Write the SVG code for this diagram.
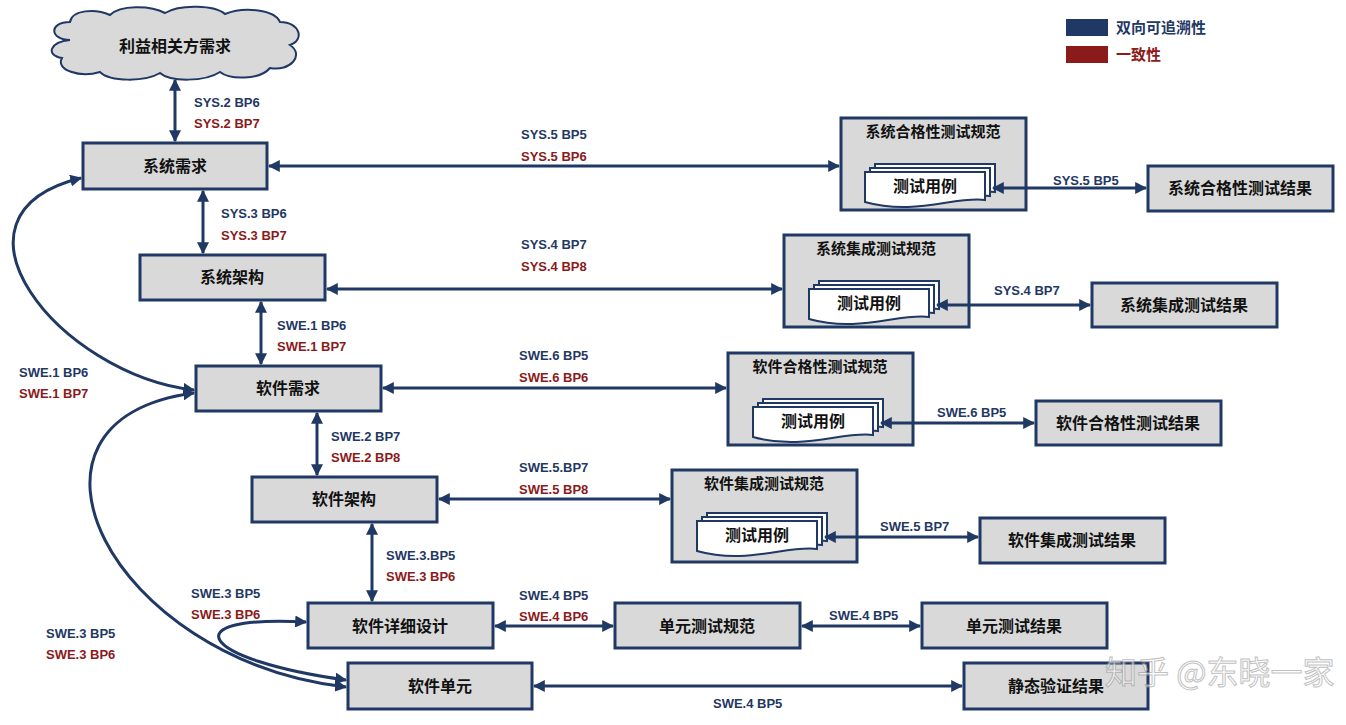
<svg xmlns="http://www.w3.org/2000/svg" width="1346" height="725" viewBox="0 0 1346 725">
<defs>
<style>
.n{fill:#d9d9d9;stroke:#1f3864;stroke-width:3}
.t{font-family:"Liberation Sans","Noto Sans CJK SC",sans-serif;font-weight:bold;font-size:16px;fill:#111;text-anchor:middle}
.l{font-family:"Liberation Sans","Noto Sans CJK SC",sans-serif;font-weight:bold;font-size:13px}
.b{fill:#1f3864}.r{fill:#8b1a1a}
.c{fill:none;stroke:#1f3864;stroke-width:3;marker-start:url(#a);marker-end:url(#a)}
.d{fill:#fff;stroke:#1f3864;stroke-width:2}
</style>
<marker id="a" viewBox="0 0 10 10" refX="9" refY="5" markerWidth="4" markerHeight="4" orient="auto-start-reverse"><path d="M0,0L10,5L0,10z" fill="#1f3864"/></marker>
<symbol id="doc" viewBox="0 0 130 40" width="130" height="40" overflow="visible">
<path class="d" d="M10,0H130V28C100,24 60,44 10,30Z"/>
<path class="d" d="M5,4H125V32C95,28 55,48 5,34Z"/>
<path class="d" d="M0,8H120V36C90,32 50,52 0,38Z"/>
</symbol>
</defs>
<rect width="1346" height="725" fill="#fff"/>
<g id="legend">
<rect x="1066" y="19" width="42" height="17" fill="#1f3864"/><text x="1116" y="33" class="l b" style="font-size:15px;fill:#1f3864">双向可追溯性</text>
<rect x="1066" y="46" width="42" height="17" fill="#8b1a1a"/><text x="1116" y="60" class="l r" style="font-size:15px">一致性</text>
</g>
<g id="connectors">
<path class="c" d="M175,80V141"/>
<path class="c" d="M203,191V253"/>
<path class="c" d="M261,302V364"/>
<path class="c" d="M317,413V475"/>
<path class="c" d="M372,524V601"/>
<path class="c" d="M269,166H839"/>
<path class="c" d="M327,289H782"/>
<path class="c" d="M383,388H726"/>
<path class="c" d="M439,499H670"/>
<path class="c" d="M495,626H613"/>
<path class="c" d="M802,626H920"/>
<path class="c" d="M534,686H962"/>
<path class="c" d="M194,390C60,375 -70,215 81,178"/>
<path class="c" d="M346,687C110,660 -10,420 194,393"/>
<path class="c" d="M346,680C200,660 170,615 306,622"/>
</g>
<g class="l">
<text x="194" y="107" class="b">SYS.2 BP6</text><text x="194" y="128" class="r">SYS.2 BP7</text>
<text x="221" y="218" class="b">SYS.3 BP6</text><text x="221" y="240" class="r">SYS.3 BP7</text>
<text x="277" y="330" class="b">SWE.1 BP6</text><text x="277" y="351" class="r">SWE.1 BP7</text>
<text x="331" y="441" class="b">SWE.2 BP7</text><text x="331" y="462" class="r">SWE.2 BP8</text>
<text x="386" y="560" class="b">SWE.3.BP5</text><text x="386" y="581" class="r">SWE.3 BP6</text>
<text x="19" y="377" class="b">SWE.1 BP6</text><text x="19" y="398" class="r">SWE.1 BP7</text>
<text x="46" y="638" class="b">SWE.3 BP5</text><text x="46" y="659" class="r">SWE.3 BP6</text>
<text x="191" y="598" class="b">SWE.3 BP5</text><text x="191" y="619" class="r">SWE.3 BP6</text>
<text x="521" y="139" class="b">SYS.5 BP5</text><text x="521" y="161" class="r">SYS.5 BP6</text>
<text x="521" y="249" class="b">SYS.4 BP7</text><text x="521" y="271" class="r">SYS.4 BP8</text>
<text x="519" y="360" class="b">SWE.6 BP5</text><text x="519" y="382" class="r">SWE.6 BP6</text>
<text x="519" y="472" class="b">SWE.5.BP7</text><text x="519" y="494" class="r">SWE.5 BP8</text>
<text x="519" y="600" class="b">SWE.4 BP5</text><text x="519" y="621" class="r">SWE.4 BP6</text>
<text x="829" y="620" class="b">SWE.4 BP5</text>
<text x="713" y="708" class="b">SWE.4 BP5</text>
<text x="1053" y="185" class="b">SYS.5 BP5</text>
<text x="994" y="295" class="b">SYS.4 BP7</text>
<text x="937" y="417" class="b">SWE.6 BP5</text>
<text x="880" y="531" class="b">SWE.5 BP7</text>
</g>
<g id="cloud"><path d="M70,40C50,40 48,22 70,22C72,10 95,8 110,15C120,5 150,5 165,13C180,4 215,5 225,14C245,6 275,10 280,22C300,22 305,40 290,45C305,55 290,72 270,68C260,80 230,80 220,72C205,82 170,82 160,73C145,82 110,82 100,72C80,78 55,70 62,58C45,55 50,42 70,40Z" fill="#d9d9d9" stroke="#1f3864" stroke-width="2"/><text x="175" y="52" class="t">利益相关方需求</text></g>
<g id="n1"><rect class="n" x="83" y="143" width="184" height="46"/><text x="175" y="172" class="t">系统需求</text></g>
<g id="n2"><rect class="n" x="140" y="255" width="185" height="45"/><text x="232" y="283" class="t">系统架构</text></g>
<g id="n3"><rect class="n" x="196" y="366" width="185" height="45"/><text x="288" y="394" class="t">软件需求</text></g>
<g id="n4"><rect class="n" x="252" y="477" width="185" height="45"/><text x="344" y="505" class="t">软件架构</text></g>
<g id="n5"><rect class="n" x="308" y="603" width="185" height="45"/><text x="400" y="632" class="t">软件详细设计</text></g>
<g id="n6"><rect class="n" x="348" y="663" width="184" height="46"/><text x="440" y="692" class="t">软件单元</text></g>
<g id="n7"><rect class="n" x="615" y="603" width="185" height="45"/><text x="707" y="632" class="t">单元测试规范</text></g>
<g id="n8"><rect class="n" x="922" y="603" width="185" height="45"/><text x="1014" y="632" class="t">单元测试结果</text></g>
<g id="n9"><rect class="n" x="964" y="663" width="184" height="46"/><text x="1056" y="692" class="t">静态验证结果</text></g>
<g id="s1"><rect class="n" x="841" y="118" width="185" height="92"/><text x="933" y="137" class="t" style="font-size:15px">系统合格性测试规范</text><use href="#doc" x="865" y="164"/><text x="925" y="192" class="t">测试用例</text></g>
<g id="s2"><rect class="n" x="784" y="235" width="185" height="92"/><text x="876" y="254" class="t" style="font-size:15px">系统集成测试规范</text><use href="#doc" x="809" y="281"/><text x="869" y="309" class="t">测试用例</text></g>
<g id="s3"><rect class="n" x="728" y="353" width="185" height="92"/><text x="820" y="372" class="t" style="font-size:15px">软件合格性测试规范</text><use href="#doc" x="753" y="399"/><text x="813" y="427" class="t">测试用例</text></g>
<g id="s4"><rect class="n" x="672" y="470" width="185" height="92"/><text x="764" y="489" class="t" style="font-size:15px">软件集成测试规范</text><use href="#doc" x="697" y="513"/><text x="757" y="541" class="t">测试用例</text></g>
<g id="r1"><rect class="n" x="1148" y="166" width="185" height="45"/><text x="1240" y="194" class="t">系统合格性测试结果</text></g>
<g id="r2"><rect class="n" x="1092" y="283" width="185" height="44"/><text x="1184" y="311" class="t">系统集成测试结果</text></g>
<g id="r3"><rect class="n" x="1036" y="401" width="185" height="44"/><text x="1128" y="429" class="t">软件合格性测试结果</text></g>
<g id="r4"><rect class="n" x="980" y="518" width="185" height="45"/><text x="1072" y="546" class="t">软件集成测试结果</text></g>
<g id="connectors-doc">
<path class="c" d="M993,188H1146"/>
<path class="c" d="M937,305H1090"/>
<path class="c" d="M881,423H1034"/>
<path class="c" d="M825,537H978"/>
</g>
<text x="1105" y="684" style="font-family:'Noto Sans CJK SC',sans-serif;font-size:32px;fill:#fff;stroke:#999;stroke-width:1;opacity:0.6">知乎 @东晓一家</text>
</svg>
